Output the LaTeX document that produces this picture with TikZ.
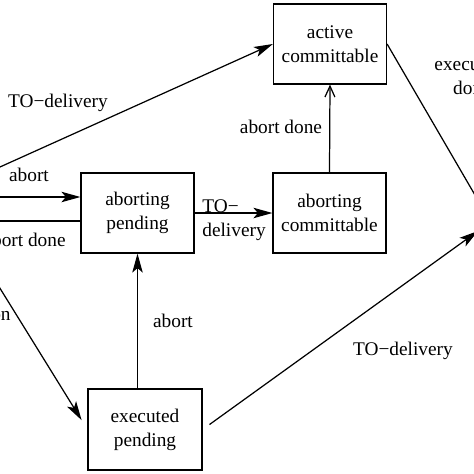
\documentclass[tikz,border=0pt]{standalone}
\usepackage{fontspec}
\setmainfont{Liberation Serif}
\usetikzlibrary{arrows.meta}
\begin{document}
\begin{tikzpicture}[x=0.02cm,y=-0.02cm,
  font=\rmfamily\fontsize{11}{13.6}\selectfont,
  statebox/.style={draw, line width=0.7pt, minimum width=2.26cm, minimum height=1.6cm, align=center, inner sep=0pt},
  lbl/.style={inner sep=0pt},
  conn/.style={line width=0.7pt},
  arr/.style={conn, -{Stealth[length=0.38cm,width=0.21cm,inset=0.09cm]}},
  openarr/.style={conn, -{Straight Barb[length=0.22cm,width=0.2cm]}}]
\useasboundingbox (0,0) rectangle (474,474);
\clip (0,0) rectangle (474,474);
% states
\node[statebox] (ac) at (330,44) {active\\committable};
\node[statebox] (acm) at (329.5,213) {aborting\\committable};
\node[statebox] (ap) at (137.5,213) {aborting\\pending};
\node[statebox, minimum width=2.28cm, minimum height=1.62cm] (ep) at (145,429.5) {executed\\pending};
% free ends
\coordinate (l1) at (-40,185);
\coordinate (l2) at (-40,197);
\coordinate (l3) at (-40,221);
\coordinate (l4) at (-20,256);
\coordinate (r1) at (500,238);
\coordinate (r2) at (478,231);
% connectors
\draw[arr] (l1) -- (ac.west);
\draw[arr] (l2) -- (l2 -| ap.west);
\draw[arr] (l3 -| ap.west) -- (l3);
\draw[arr, shorten >=0.22cm] (l4) -- (ep.west);
\draw[arr] (ap.south |- ep.north) -- (ap.south);
\draw[arr] (ap.east) -- (acm.west);
\draw[openarr] (acm.north) -- (ac.south);
\draw[conn] (ac.east) -- (r1);
\draw[arr, shorten <=0.17cm] (ep.east) -- (r2);
% labels
\node[lbl] (t1) at (58,103) {TO−delivery};
\node[lbl] (t2) at (29,175) {abort};
\node[lbl, anchor=east] (t3) at (66,240) {abort done};
\node[lbl, anchor=east] (t4) at (11,314) {execution};
\node[lbl] (t5) at (173,321) {abort};
\node[lbl, anchor=west, align=left] (t6) at (202,220) {TO−\\delivery};
\node[lbl] (t7) at (281,127) {abort done};
\node[lbl, align=center] (t8) at (472,76) {execution\\done};
\node[lbl] (t9) at (403,351) {TO−delivery};
\end{tikzpicture}
\end{document}
